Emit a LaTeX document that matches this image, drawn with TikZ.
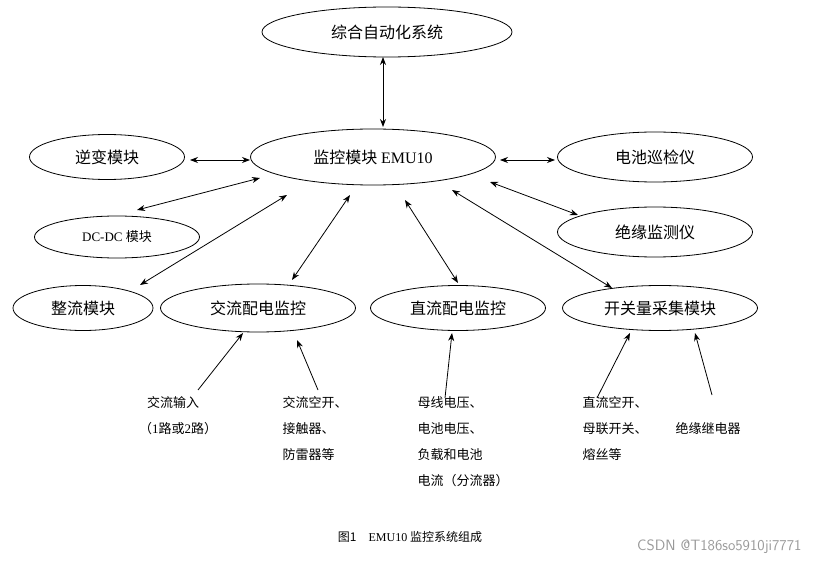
\documentclass[tikz,border=0pt]{standalone}
\usepackage{fontspec}
\setmainfont{Liberation Serif}
\newfontfamily\cjk{Noto Sans CJK SC}
\usetikzlibrary{shapes.geometric,arrows.meta}
\begin{document}
\begin{tikzpicture}[x=1pt,y=-1pt,
  el/.style={draw,line width=0.8pt,ellipse,inner sep=0pt,font=\cjk\fontsize{16}{18}\selectfont},
  ar/.style={line width=0.8pt,{Stealth[length=8pt,width=6pt]}-{Stealth[length=8pt,width=6pt]}},
  up/.style={line width=0.8pt,-{Stealth[length=8pt,width=6pt]}},
  tx/.style={font=\cjk\fontsize{13}{26}\selectfont,align=left,anchor=north west}]
\useasboundingbox (0,0) rectangle (820,567);
\node[el,minimum width=250,minimum height=50] (top) at (387,32) {综合自动化系统};
\node[el,minimum width=245,minimum height=56] (emu) at (373,157) {监控模块 {\rmfamily EMU10}};
\node[el,minimum width=155,minimum height=45] (inv) at (107,157) {逆变模块};
\node[el,minimum width=195,minimum height=50] (bat) at (655,157) {电池巡检仪};
\node[el,minimum width=165,minimum height=42] (dc) at (117,237) {{\rmfamily\fontsize{13}{15}\selectfont DC-DC }{\fontsize{13}{15}\selectfont 模块}};
\node[el,minimum width=195,minimum height=50] (ins) at (655,232) {绝缘监测仪};
\node[el,minimum width=140,minimum height=45] (rec) at (83,308) {整流模块};
\node[el,minimum width=195,minimum height=48] (ac) at (258,308) {交流配电监控};
\node[el,minimum width=175,minimum height=45] (dcm) at (458,308) {直流配电监控};
\node[el,minimum width=195,minimum height=45] (sw) at (660,308) {开关量采集模块};
\coordinate (a1) at (383,57); \coordinate (a2) at (383,127);
\draw[ar] (a1) -- (a2);
\draw[ar] (190,160) -- (250,160);
\draw[ar] (500,160) -- (555,160);
\draw[ar] (260,178) -- (137,210);
\draw[ar] (490,182) -- (578,215);
\draw[ar] (287,195) -- (140,285);
\draw[ar] (350,195) -- (292,280);
\draw[ar] (405,200) -- (458,283);
\draw[ar] (452,190) -- (612,288);
\node[tx,anchor=north] (t1) at (182,393) {交流输入\\\hspace*{-8pt}（{\rmfamily 1}路或{\rmfamily 2}路）};
\node[tx] (t2) at (279,393) {交流空开、\\接触器、\\防雷器等};
\node[tx] (t3) at (414,393) {母线电压、\\电池电压、\\负载和电池\\电流（分流器）};
\node[tx] (t4) at (579,393) {直流空开、\\母联开关、\\熔丝等};
\node[tx] (t5) at (672,419) {绝缘继电器};
\draw[up] (198,390) -- (243,333);
\draw[up] (318,390) -- (297,340);
\draw[up] (445,398) -- (452,333);
\draw[up] (597,398) -- (630,333);
\draw[up] (712,395) -- (695,333);
\node[font=\cjk\fontsize{12}{14}\selectfont] (cap) at (410,537) {图1\quad{\rmfamily EMU10} 监控系统组成};
\node[font=\fontsize{15}{18}\selectfont\sffamily,text=gray!80,anchor=east] (wm) at (805,547) {CSDN @T186so5910ji7771};
\end{tikzpicture}
\end{document}
